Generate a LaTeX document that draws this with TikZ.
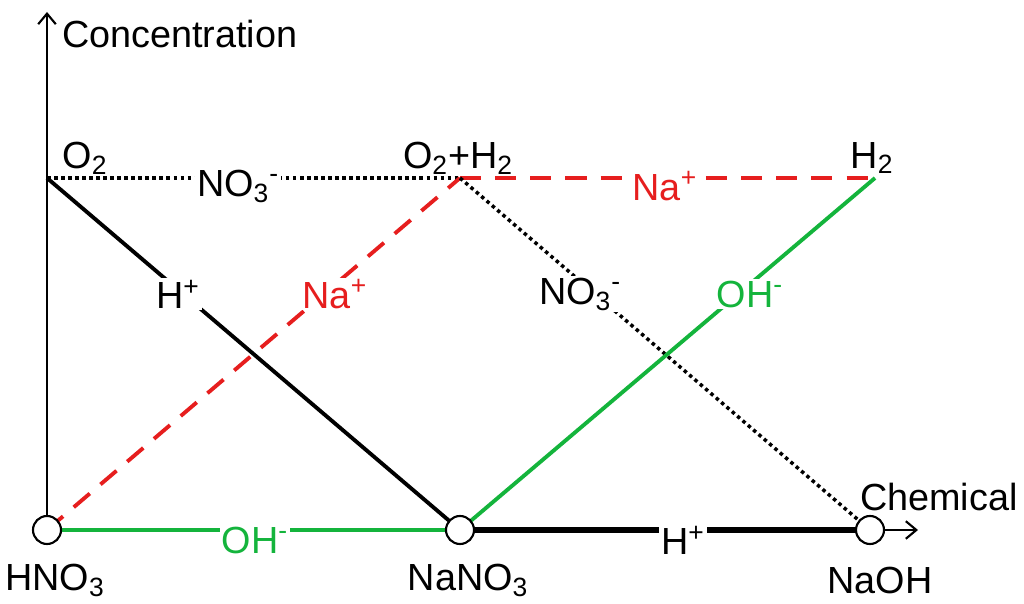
\documentclass[tikz,border=0pt]{standalone}
\usepackage{fontspec}
\setmainfont{Liberation Sans}
\usetikzlibrary{arrows.meta}
\definecolor{myred}{RGB}{230,30,30}
\definecolor{mygreen}{RGB}{20,180,60}
\newcommand{\nit}{NO\textsubscript{3}\textsuperscript{-}}
\begin{document}
\begin{tikzpicture}[x=0.02cm,y=-0.02cm,
  lbl/.style={font=\fontsize{21.5}{24}\selectfont,inner sep=1pt},
  cut/.style={lbl,fill=white},
  pt/.style={circle,draw,fill=white,line width=1.2pt,minimum size=0.56cm,inner sep=0pt},
  dot/.style={black,dotted,line width=2pt},
  reddash/.style={myred,dash pattern=on 12pt off 8pt,line width=2.2pt},
  grn/.style={mygreen,line width=2.2pt},
  blk/.style={black,line width=2.2pt}]
\useasboundingbox (0,0) rectangle (1024,604);
\coordinate (O) at (47,178);
\coordinate (M) at (460,178);
\coordinate (H) at (875,178);
\coordinate (yt) at (47,12);
\coordinate (xe) at (918,530);
\draw[-{Straight Barb[length=6pt,width=10pt]},line width=1.2pt] (47,530) -- (yt);
\draw[-{Straight Barb[length=6pt,width=10pt]},line width=1.2pt] (47,530) -- (xe);
\draw[dot] (O) -- (M);
\draw[reddash] (M) -- (H);
\draw[blk] (O) -- (460,530);
\draw[reddash] (47,530) -- (M);
\draw[dot] (M) -- (870,530);
\draw[grn] (47,530) -- (460,530);
\draw[grn] (460,530) -- (H);
\draw[blk,line width=3pt] (460,530) -- (870,530);
\node[pt] (a) at (47,530) {};
\node[pt] (b) at (460,530) {};
\node[pt] (c) at (870,530) {};
\node[cut] at (238,186) {\nit};
\node[cut,text=myred] at (665,186) {Na\textsuperscript{+}};
\node[cut] at (178,294) {H\textsuperscript{+}};
\node[cut,text=myred] at (335,294) {Na\textsuperscript{+}};
\node[cut] at (580,294) {\nit};
\node[cut,text=mygreen] at (750,294) {OH\textsuperscript{-}};
\node[cut,text=mygreen] at (255,540) {OH\textsuperscript{-}};
\node[cut] at (683,540) {H\textsuperscript{+}};
\node[lbl] at (85,158) {O\textsubscript{2}};
\node[lbl] at (458,158) {O\textsubscript{2}+H\textsubscript{2}};
\node[lbl] at (872,158) {H\textsubscript{2}};
\node[lbl] at (55,580) {HNO\textsubscript{3}};
\node[lbl] at (468,580) {NaNO\textsubscript{3}};
\node[lbl] at (880,580) {NaOH};
\node[lbl,anchor=west] at (60,34) {Concentration};
\node[lbl,anchor=west] at (858,497) {Chemical};
\end{tikzpicture}
\end{document}
